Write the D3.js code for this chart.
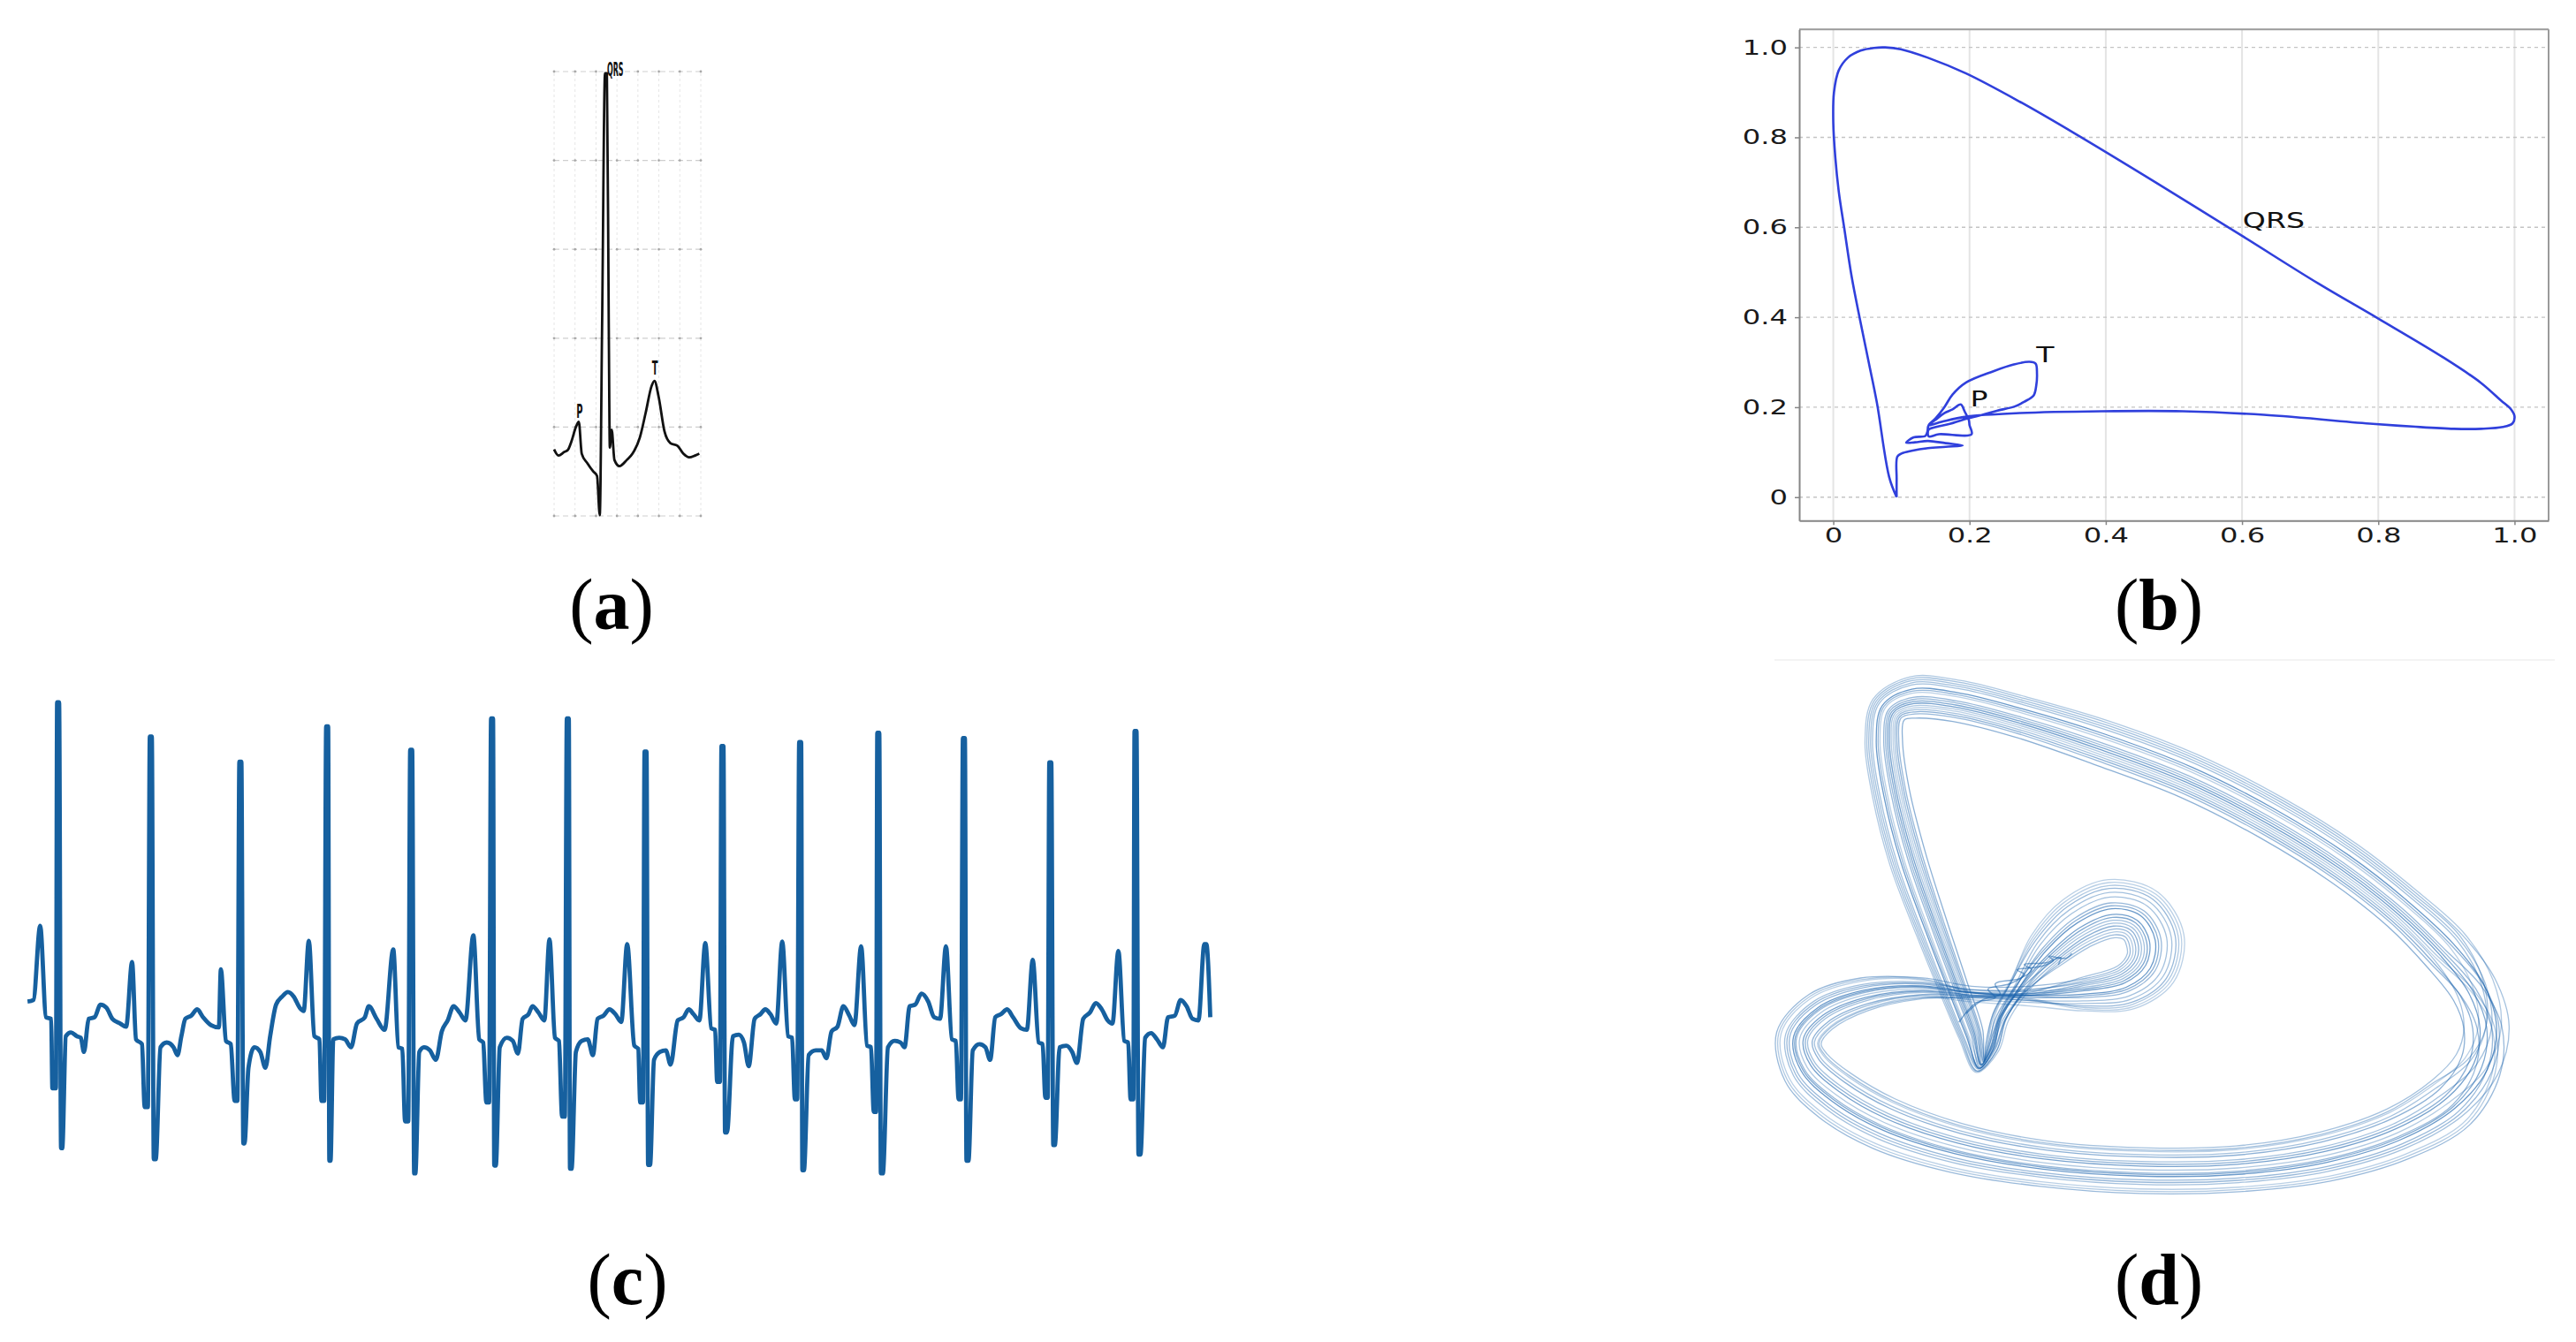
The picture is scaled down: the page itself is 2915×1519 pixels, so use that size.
<!DOCTYPE html>
<html><head><meta charset="utf-8">
<script src="https://cdn.jsdelivr.net/npm/d3@7"></script>
<style>html,body{margin:0;padding:0;background:#fff;} svg{display:block}</style>
</head><body>
<svg id="fig" width="2915" height="1519"></svg>
<script>
// ================= DATA =================
// Panel (a): one ECG beat, in grid-box units (time boxes, amplitude boxes)
const aTime = [0,0.21,0.49,0.65,0.83,1.04,1.18,1.32,1.60,1.87,2.05,2.18,2.29,2.43,2.52,2.61,2.66,2.75,2.88,3.12,3.47,3.74,4.09,4.37,4.65,4.79,4.99,5.27,5.55,5.89,6.17,6.45,6.73,6.93];
const aAmp  = [0.75,0.68,0.72,0.74,0.84,1.00,1.06,0.70,0.59,0.50,0.45,0.01,2.12,4.98,4.98,2.12,0.77,0.97,0.63,0.56,0.63,0.70,0.88,1.16,1.46,1.52,1.34,0.95,0.82,0.79,0.70,0.66,0.68,0.70];
const aGridT = [0,1,2,3,4,5,6,7];
const aGridA = [0,1,2,3,4,5];
const aWaveNames = ["P","T","QRS"];
const aWaveT = [1.22,4.81,2.53];
const aWaveA = [1.10,1.59,4.95];

// Panel (b): phase portrait of one beat (normalised)
const bX = [0.093,0.082,0.064,0.052,0.040,0.027,0.016,0.008,0.003,0.0,0.001,0.008,0.022,0.04,0.06,0.076,0.099,0.139,0.195,0.274,0.354,0.473,0.601,0.712,0.800,0.895,0.950,0.980,0.995,1.0,0.997,0.983,0.951,0.911,0.85,0.792,0.632,0.513,0.394,0.274,0.195,0.16,0.14,
  0.15,0.163,0.175,0.195,0.235,0.265,0.288,0.297,0.299,0.298,0.294,0.28,0.267,0.24,0.219,0.19,0.171,0.151,0.14,
  0.14,0.155,0.203,0.2,0.199,0.193,0.187,0.175,0.163,0.15,0.14,0.138,0.135,0.118,0.107,0.12,0.139,0.165,0.190,0.165,0.139,0.115,0.100,0.094,0.093,0.093];
const bY = [0.0,0.045,0.21,0.30,0.389,0.49,0.599,0.68,0.755,0.833,0.90,0.949,0.978,0.993,0.999,1.0,0.996,0.977,0.942,0.879,0.809,0.700,0.580,0.475,0.397,0.311,0.255,0.215,0.195,0.179,0.164,0.156,0.152,0.152,0.157,0.163,0.183,0.191,0.191,0.187,0.179,0.168,0.16,
  0.175,0.2,0.228,0.255,0.280,0.295,0.301,0.297,0.275,0.249,0.226,0.212,0.202,0.192,0.183,0.172,0.163,0.156,0.15,
  0.135,0.14,0.140,0.16,0.171,0.19,0.206,0.195,0.187,0.172,0.16,0.145,0.136,0.133,0.121,0.122,0.125,0.12,0.115,0.112,0.109,0.103,0.097,0.09,0.04,0.0];
const bTicks = [0,0.2,0.4,0.6,0.8,1.0];
const bTickLabels = ["0","0.2","0.4","0.6","0.8","1.0"];
const bWaveNames = ["QRS","T","P"];
const bWaveX = [0.601,0.298,0.201];
const bWaveY = [0.599,0.300,0.202];

// Panel (c): ECG strip (sample index, ADC counts)
const cSample = [25,40,57,72,85,88,97,100,105,110,113,122,135,150,160,168,180,195,210,225,240,260,275,290,300,315,322,330,335,340,345,350,362,378,395,405,415,425,440,455,470,490,510,515,528,540,550,557,562,567,572,575,585,600,615,628,640,655,670,685,700,715,725,738,752,765,770,777,782,787,790,793,800,815,830,845,860,880,890,910,930,952,965,975,982,990,995,1000,1005,1008,1018,1030,1045,1060,1075,1090,1105,1120,1135,1155,1170,1180,1188,1195,1200,1205,1208,1212,1222,1240,1255,1268,1280,1295,1305,1320,1335,1348,1362,1372,1380,1387,1392,1397,1400,1404,1415,1430,1445,1458,1470,1485,1500,1515,1530,1545,1563,1573,1578,1585,1589,1594,1598,1603,1613,1628,1643,1655,1673,1688,1701,1713,1728,1743,1758,1768,1773,1780,1784,1789,1793,1798,1813,1828,1841,1853,1868,1883,1895,1908,1923,1938,1953,1963,1970,1976,1981,1986,1989,1993,2005,2023,2038,2050,2063,2078,2093,2108,2121,2138,2153,2163,2170,2176,2179,2184,2188,2193,2206,2223,2238,2248,2261,2275,2291,2308,2323,2338,2353,2368,2378,2385,2391,2396,2401,2405,2410,2421,2438,2453,2465,2478,2493,2508,2523,2543,2558,2573,2588,2598,2605,2611,2615,2620,2625,2629,2641,2658,2673,2685,2701,2718,2733,2748,2763,2775,2790,2805,2815,2821,2828,2831,2836,2841,2846,2858,2873,2888,2903,2916,2933,2948,2963,2978,2993,3008,3013,3023];
const cCount = [110,115,350,60,55,-165,-165,1058,1058,-355,-355,0,12,0,-5,-50,55,60,100,90,55,40,30,235,-10,-25,-225,-225,950,950,-390,-390,-35,-20,-35,-60,0,55,65,85,60,35,28,212,-15,-25,-205,-205,870,870,-340,-340,-100,-35,-50,-100,0,100,125,140,125,90,80,302,0,-10,-205,-205,982,982,-395,-395,-10,-5,-10,-35,40,60,95,55,20,275,-35,-40,-270,-270,908,908,-435,-435,-50,-35,-45,-75,15,50,95,75,50,320,-10,-20,-210,-210,1007,1007,-410,-410,-35,-5,-15,-55,55,70,95,75,50,307,-5,-15,-255,-255,1007,1007,-420,-420,-50,-15,-10,-60,55,65,85,70,45,292,-30,-40,-210,-210,902,902,-408,-408,-75,-50,-45,-90,50,60,85,70,50,295,25,20,-145,-145,920,920,-305,-305,0,5,-20,-95,55,70,85,70,40,300,0,-5,-200,-200,932,932,-425,-425,-60,-45,-45,-70,15,30,95,65,35,285,-30,-35,-240,-240,962,962,-435,-435,-35,-15,-20,-35,95,100,135,110,60,55,285,-10,-15,-200,-200,945,945,-395,-395,-45,-25,-35,-75,60,70,85,60,25,20,242,-20,-25,-195,-195,868,868,-345,-345,-35,-30,-50,-85,55,75,105,85,50,40,270,-15,-20,-200,-200,967,967,-375,-375,-5,10,-10,-35,60,65,115,95,55,50,292,292,60];

// Panel (d): attractor – mean cycle (state units), band width along it, per-loop offsets
const dX = [420,320,200,110,65,80,140,240,390,570,770,970,1150,1300,1410,1470,1485,1460,1400,1310,1190,1040,870,690,520,390,300,250,240,255,290,340,385,420,440,462,480,520,575,640,710,770,800,790,740,650,540];
const dY = [975,958,975,1025,1100,1185,1265,1345,1415,1460,1480,1475,1440,1375,1285,1180,1070,960,850,730,600,470,350,255,180,135,125,160,250,400,590,790,960,1090,1180,1130,1040,950,850,770,730,750,820,900,955,975,980];
const dBand = [40,50,80,100,110,120,130,130,120,110,110,110,120,130,140,140,140,130,120,110,110,110,110,110,100,100,100,90,90,90,90,80,70,60,40,40,50,60,100,130,140,140,140,130,110,80,50];
const loopOffLow  = [-0.5,-0.42,-0.3,-0.2,-0.1,-0.02,0.05,0.12,0.2,0.3,0.4,0.5,-0.35,0.08,0.25,-0.15,0.45,-0.45];
const loopOffUp   = [-0.3,0.1,-0.5,0.35,-0.15,0.5,-0.4,0.2,-0.05,0.45,-0.25,0.0,0.3,-0.1,0.15,-0.35,-0.2,0.4];
const loopOffLobe = [0.5,-0.5,0.3,-0.2,0.1,0.4,-0.35,0.0,-0.1,0.2,-0.45,0.45,-0.28,0.15,0.35,-0.05,-0.4,0.25];
const loopAlpha   = [0.4,0.3,0.5,0.4,0.6,0.35,0.45,0.65,0.45,0.4,0.3,0.45,0.4,0.55,0.45,0.5,0.35,0.4];
// tangled core near the crossing (two short strands)
const coreAX = [395,430,470,455,500,530,515,565,590,580,615,628];
const coreAY = [1055,1000,985,960,945,918,905,895,878,866,872,858];
const coreBX = [410,445,480,470,520,545,530,575,605,600];
const coreBY = [1030,990,975,945,930,905,890,885,870,890];

const panelLabels = ["a","b","c","d"];

// ================= DRAWING =================
const svg = d3.select("#fig");

// ---------- Panel (a)
const xA = d3.scaleLinear().domain([0,7]).range([627,793]);
const yA = d3.scaleLinear().domain([0,5]).range([584,81]);
const gA = svg.append("g");
gA.selectAll("line.v").data(aGridT).join("line")
  .attr("x1",d=>xA(d)).attr("x2",d=>xA(d)).attr("y1",yA(0)).attr("y2",yA(5))
  .attr("stroke","#e6e6e6").attr("stroke-width",1).attr("stroke-dasharray","3,3");
gA.selectAll("line.h").data(aGridA).join("line")
  .attr("x1",xA(0)).attr("x2",xA(7)).attr("y1",d=>yA(d)).attr("y2",d=>yA(d))
  .attr("stroke","#cfcfcf").attr("stroke-width",1.2).attr("stroke-dasharray","6,4");
aGridA.forEach(v=>{
  gA.selectAll(null).data(aGridT).join("circle")
    .attr("cx",d=>xA(d)).attr("cy",yA(v)).attr("r",1.4).attr("fill","#a8a8a8");
});
gA.append("path")
  .attr("d", d3.line().x((d,i)=>xA(aTime[i])).y((d,i)=>yA(aAmp[i])).curve(d3.curveMonotoneX)(aTime))
  .attr("fill","none").attr("stroke","#111").attr("stroke-width",2.8).attr("stroke-linejoin","round");
aWaveNames.forEach((n,i)=>{
  gA.append("text")
    .attr("transform",`translate(${xA(aWaveT[i])},${yA(aWaveA[i])}) scale(${n==="QRS"?0.36:0.45},1)`)
    .attr("text-anchor", n==="QRS"?"start":"middle")
    .attr("font-family","DejaVu Sans").attr("font-weight","bold").attr("font-size",22)
    .attr("fill","#111").text(n);
});

// ---------- Panel (b)
const xB = d3.scaleLinear().domain([-0.05,1.05]).range([2036,2884]);
const yB = d3.scaleLinear().domain([-0.052,1.04]).range([589.2,33.3]);
const gB = svg.append("g");
gB.selectAll("line.gv").data(bTicks).join("line")
  .attr("x1",d=>xB(d)).attr("x2",d=>xB(d)).attr("y1",yB.range()[0]).attr("y2",yB.range()[1])
  .attr("stroke","#e4e4e4").attr("stroke-width",2);
gB.selectAll("line.gh").data(bTicks).join("line")
  .attr("x1",xB.range()[0]).attr("x2",xB.range()[1]).attr("y1",d=>yB(d)).attr("y2",d=>yB(d))
  .attr("stroke","#c4c4c4").attr("stroke-width",1.4).attr("stroke-dasharray","4,4");
gB.append("line").attr("x1",xB.range()[0]).attr("x2",xB.range()[1]).attr("y1",yB.range()[1]).attr("y2",yB.range()[1]).attr("stroke","#9a9a9a").attr("stroke-width",2);
gB.append("line").attr("x1",xB.range()[1]).attr("x2",xB.range()[1]).attr("y1",yB.range()[0]).attr("y2",yB.range()[1]).attr("stroke","#9a9a9a").attr("stroke-width",2);
const axB = gB.append("g").attr("transform",`translate(0,${yB.range()[0]})`)
  .call(d3.axisBottom(xB).tickValues(bTicks).tickFormat((d,i)=>bTickLabels[i]).tickSize(5).tickSizeOuter(0).tickPadding(3));
const ayB = gB.append("g").attr("transform",`translate(${xB.range()[0]},0)`)
  .call(d3.axisLeft(yB).tickValues(bTicks).tickFormat((d,i)=>bTickLabels[i]).tickSize(5).tickSizeOuter(0));
[axB, ayB].forEach(a=>{
  a.select(".domain").attr("stroke","#858585").attr("stroke-width",2);
  a.selectAll(".tick line").attr("stroke","#858585").attr("stroke-width",1.5);
  a.selectAll("text").attr("font-family","DejaVu Sans").attr("font-size",23).attr("fill","#1a1a1a");
});
axB.selectAll("text").attr("transform","scale(1.4,1)");
ayB.selectAll("text").attr("x",-13/1.4).attr("transform","scale(1.4,1)");
gB.append("path")
  .attr("d", d3.line().x((d,i)=>xB(bX[i])).y((d,i)=>yB(bY[i])).curve(d3.curveCatmullRom.alpha(0.5))(bX))
  .attr("fill","none").attr("stroke","#3040dc").attr("stroke-width",2.6).attr("stroke-linejoin","round");
bWaveNames.forEach((n,i)=>{
  gB.append("text")
    .attr("transform",`translate(${xB(bWaveX[i])},${yB(bWaveY[i])}) scale(1.38,1)`)
    .attr("font-family","DejaVu Sans").attr("font-size",24).attr("fill","#111").text(n);
});

// ---------- Panel (c)
const xC = d3.scaleLinear().domain([0,3136]).range([20,1420]);
const yC = d3.scaleLinear().domain([-500,1100]).range([1351.43,780]);
svg.append("path")
  .attr("d", d3.line().x((d,i)=>xC(cSample[i])).y((d,i)=>yC(cCount[i])).curve(d3.curveMonotoneX)(cSample))
  .attr("fill","none").attr("stroke","#16609f").attr("stroke-width",4.8)
  .attr("stroke-linejoin","round").attr("stroke-linecap","butt");

// ---------- Panel (d)
const xD = d3.scaleLinear().domain([0,1568]).range([2000,2860.1]);
const yD = d3.scaleLinear().domain([0,1568]).range([740,1359.8]);
const gD = svg.append("g");
gD.append("line").attr("x1",2008).attr("x2",2891).attr("y1",747).attr("y2",747).attr("stroke","#efefef").attr("stroke-width",1.5);
const basePx = dX.map((x,i)=>[xD(x), yD(dY[i])]);
const N = basePx.length;
const pxPerUnit = ((xD(1)-xD(0)) + (yD(1)-yD(0)))/2;
const normals = basePx.map((p,i)=>{
  const a = basePx[(i-1+N)%N], b = basePx[(i+1)%N];
  const dx = b[0]-a[0], dy = b[1]-a[1]; const L = Math.hypot(dx,dy)||1;
  return [-dy/L, dx/L];
});
function offAt(i, an){
  const k = i===0 ? 47 : i;
  for(let j=0;j<an.length-1;j++){
    const [i0,v0]=an[j], [i1,v1]=an[j+1];
    if(k>=i0 && k<=i1) return v0 + (v1-v0)*(k-i0)/(i1-i0);
  }
  return an[0][1];
}
const loopLine = d3.line().curve(d3.curveCatmullRomClosed.alpha(0.5));
loopOffLow.forEach((lo,j)=>{
  const an = [[1,lo],[14,lo],[18,loopOffUp[j]],[33,loopOffUp[j]],[38,loopOffLobe[j]],[45,loopOffLobe[j]],[48,lo]];
  const pts = basePx.map((p,i)=>{
    const o = offAt(i,an)*dBand[i]*pxPerUnit;
    return [p[0]+normals[i][0]*o, p[1]+normals[i][1]*o];
  });
  gD.append("path").attr("d",loopLine(pts)).attr("fill","none")
    .attr("stroke","#1c64ad").attr("stroke-width",1.3).attr("stroke-opacity",loopAlpha[j]);
});
[[coreAX,coreAY],[coreBX,coreBY]].forEach(([cx,cy])=>{
  gD.append("path")
    .attr("d", d3.line().x((d,i)=>xD(cx[i])).y((d,i)=>yD(cy[i])).curve(d3.curveCatmullRom.alpha(0.5))(cx))
    .attr("fill","none").attr("stroke","#1c64ad").attr("stroke-width",1.5).attr("stroke-opacity",0.55);
});

// ---------- Panel labels
const labelPos = [[692,712],[2443,712],[710,1476],[2443,1476]];
panelLabels.forEach((l,i)=>{
  const t = svg.append("text").attr("x",labelPos[i][0]).attr("y",labelPos[i][1])
    .attr("text-anchor","middle").attr("font-family","Liberation Serif").attr("font-size",82).attr("fill","#000");
  t.append("tspan").text("(");
  t.append("tspan").attr("font-weight","bold").text(l);
  t.append("tspan").text(")");
});
</script>
</body></html>
